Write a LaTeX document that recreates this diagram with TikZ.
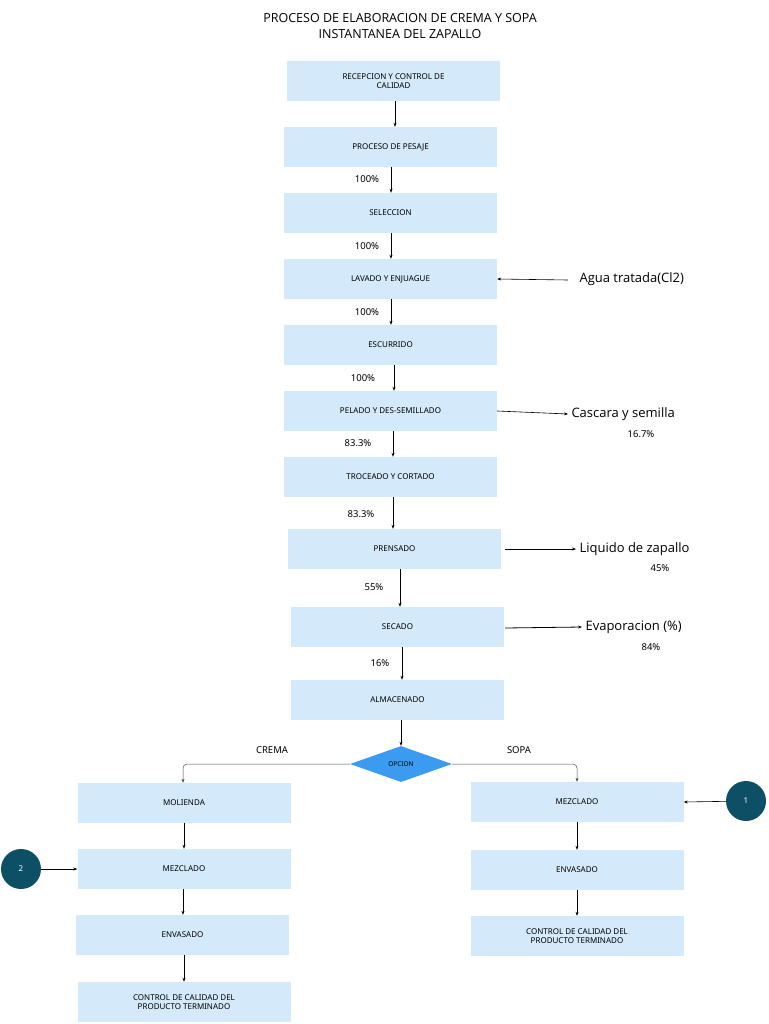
\documentclass[tikz,border=0pt]{standalone}
\usepackage{fontspec}
\setmainfont{Noto Sans}
\newfontfamily\osans{Open Sans}
\usetikzlibrary{shapes.geometric,arrows.meta}
\definecolor{boxc}{HTML}{D4EAFB}
\definecolor{teal}{HTML}{0D5066}
\definecolor{dia}{HTML}{3A9BF0}
\tikzset{
 box/.style={fill=boxc,draw=none,minimum width=213pt,minimum height=40pt,inner sep=0pt,align=center,font=\fontsize{8}{9}\selectfont},
 arr/.style={-{Stealth[length=4pt,width=3pt]},line width=0.8pt},
 sarr/.style={-{Stealth[length=4pt,width=3pt]},line width=0.6pt},
 pct/.style={font=\fontsize{9.5}{11}\selectfont},
 big/.style={font=\osans\fontsize{13}{15}\selectfont},
 circ/.style={circle,fill=teal,text=white,minimum size=40pt,inner sep=0pt,font=\bfseries\fontsize{8}{9}\selectfont}
}
\begin{document}
\begin{tikzpicture}[x=1pt,y=-1pt]
\useasboundingbox (0,0) rectangle (768,1024);
\node[font=\osans\fontsize{12.5}{16}\selectfont,align=center] (title) at (400,26) {PROCESO DE ELABORACION DE CREMA Y SOPA\\INSTANTANEA DEL ZAPALLO};
\node[box] (b1) at (393.5,81) {RECEPCION Y CONTROL DE\\CALIDAD};
\node[box] (b2) at (390.5,147) {PROCESO DE PESAJE};
\node[box] (b3) at (390.5,213) {SELECCION};
\node[box] (b4) at (390.5,279) {LAVADO Y ENJUAGUE};
\node[box] (b5) at (390.5,345) {ESCURRIDO};
\node[box] (b6) at (390.5,411) {PELADO Y DES-SEMILLADO};
\node[box] (b7) at (390.5,477) {TROCEADO Y CORTADO};
\node[box] (b8) at (394.5,549) {PRENSADO};
\node[box] (b9) at (397.5,627) {SECADO};
\node[box] (b10) at (397.5,700) {ALMACENADO};
\node[diamond,fill=dia,minimum width=102pt,minimum height=36pt,inner sep=0pt,aspect=2.8,font=\fontsize{6.5}{7}\selectfont] (op) at (401,764) {OPCION};
\node[box] (l1) at (184,803) {MOLIENDA};
\node[box] (l2) at (184,869) {MEZCLADO};
\node[box] (l3) at (182.5,935) {ENVASADO};
\node[box] (l4) at (184,1002) {CONTROL DE CALIDAD DEL\\PRODUCTO TERMINADO};
\node[box] (r1) at (577,802) {MEZCLADO};
\node[box] (r2) at (577,870) {ENVASADO};
\node[box] (r3) at (577,936) {CONTROL DE CALIDAD DEL\\PRODUCTO TERMINADO};
\node[circ] (c1) at (746,801) {1};
\node[circ] (c2) at (21,869) {2};
\draw[sarr] (b1.south -| 395,0) -- (b2.north -| 395,0);
\draw[arr] (b2.south -| 391,0) -- (b3.north -| 391,0);
\draw[arr] (b3.south -| 391,0) -- (b4.north -| 391,0);
\draw[sarr] (b4.south -| 391,0) -- (b5.north -| 391,0);
\draw[sarr] (b5.south -| 394,0) -- (b6.north -| 394,0);
\draw[arr] (b6.south -| 393,0) -- (b7.north -| 393,0);
\draw[sarr] (b7.south -| 393,0) -- (b8.north -| 393,0);
\draw[sarr] (b8.south -| 400,0) -- (b9.north -| 400,0);
\draw[arr] (b9.south -| 402,0) -- (b10.north -| 402,0);
\draw[sarr] (b10.south -| 401,0) -- (op.north);
\node[pct] (p1) at (367,179) {100\%};
\node[pct] (p2) at (367,246) {100\%};
\node[pct] (p3) at (367,312) {100\%};
\node[pct] (p4) at (363,378) {100\%};
\node[pct] (p5) at (358,443) {83.3\%};
\node[pct] (p6) at (361,514) {83.3\%};
\node[pct] (p7) at (374,587) {55\%};
\node[pct] (p8) at (380,663) {16\%};
\coordinate (agua) at (568,280);
\node[big,anchor=west] (tagua) at (576,279) {Agua tratada(Cl2)};
\draw[sarr] (agua) -- (b4.east);
\node[big,anchor=west] (tcas) at (568,414) {Cascara y semilla};
\draw[sarr] (b6.east) -- (tcas.west);
\node[pct] (q1) at (641,434) {16.7\%};
\node[big,anchor=west] (tliq) at (576,549) {Liquido de zapallo};
\draw[sarr] (505,549) -- (tliq.west);
\node[pct] (q2) at (660,568) {45\%};
\node[big,anchor=west] (tevap) at (582,627) {Evaporacion (\%)};
\draw[arr] (505,628) -- (tevap.west);
\node[pct] (q3) at (651,647) {84\%};
\draw[sarr,line width=0.5pt,draw=black!70,rounded corners=4pt] (op.west) -- (183,764) -- (l1.north -| 183,0);
\draw[sarr,line width=0.5pt,draw=black!70,rounded corners=4pt] (op.east) -- (577,764) -- (r1.north -| 577,0);
\node[pct] (crema) at (272,750) {CREMA};
\node[pct] (sopa) at (519,750) {SOPA};
\draw[arr] (l1.south -| 184,0) -- (l2.north -| 184,0);
\draw[sarr] (l2.south -| 183,0) -- (l3.north -| 183,0);
\draw[arr] (l3.south -| 184,0) -- (l4.north -| 184,0);
\draw[sarr] (r1.south -| 577,0) -- (r2.north -| 577,0);
\draw[sarr] (r2.south -| 577,0) -- (r3.north -| 577,0);
\draw[sarr] (c1) -- (r1.east);
\draw[sarr] (c2) -- (l2.west);
\end{tikzpicture}
\end{document}
